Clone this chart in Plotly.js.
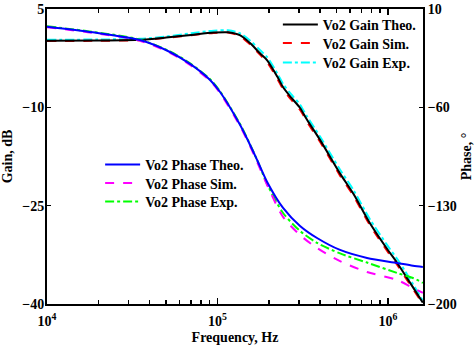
<!DOCTYPE html>
<html>
<head>
<meta charset="utf-8">
<script src="https://cdn.plot.ly/plotly-3.0.1.min.js"></script>
<style>html,body{margin:0;padding:0;background:#fff;}#chart{width:474px;height:348px;}</style>
</head>
<body>
<div id="chart"></div>
<script>
// Frequency grids (Hz)
const gainFreq = [1e4, 2e4, 3.5e4, 5e4, 7e4, 9.5e4, 1.15e5, 1.35e5, 1.55e5, 1.78e5, 1.95e5, 2.24e5, 2.42e5, 2.7e5, 3.05e5, 3.35e5, 4e5, 5.2e5, 6.3e5, 7.8e5, 1e6, 1.13e6, 1.26e6, 1.6e6];
const phaseFreq = [1e4, 1.86e4, 3.51e4, 5.26e4, 6.9e4, 9.04e4, 1.035e5, 1.357e5, 1.553e5, 1.707e5, 1.954e5, 2.423e5, 3.047e5, 3.834e5, 5.23e5, 7.53e5, 1.13e6, 1.4e6, 1.6e6];

// Gain (dB)
const gainTheo = [0.15, 0.2, 0.3, 0.65, 1.05, 1.4, 1.45, 1.0, -0.2, -1.8, -2.8, -5.3, -6.9, -8.5, -10.1, -11.9, -15.0, -20.0, -23.3, -27.6, -31.8, -33.7, -35.6, -39.8];
const gainSim  = [0.1, 0.15, 0.25, 0.6, 1.0, 1.35, 1.4, 0.9, -0.4, -2.0, -3.1, -5.6, -7.2, -8.8, -10.4, -12.2, -15.3, -20.3, -23.6, -27.9, -32.1, -34.0, -35.9, -40.0];
const gainExp  = [0.3, 0.35, 0.45, 0.8, 1.3, 1.7, 1.75, 1.3, 0.2, -1.3, -2.3, -4.8, -6.4, -8.0, -9.6, -11.4, -14.5, -19.4, -22.7, -27.0, -31.2, -33.1, -35.0, -39.5];

// Phase (deg)
const phaseTheo = [-2.6, -6.6, -12.1, -20.6, -29.1, -40.5, -49.1, -72.6, -86.8, -97.5, -113.1, -131.6, -144.4, -153, -161.5, -167.2, -170.8, -172.8, -173.6];
const phaseSim  = [-3.0, -7.0, -12.6, -21.2, -29.8, -41.2, -49.8, -73.4, -87.8, -98.8, -115.3, -138, -150.9, -160.1, -169.5, -177.2, -182.9, -188.6, -192];
const phaseExp  = [-2.3, -6.3, -11.8, -20.2, -28.7, -40.0, -48.6, -72.0, -86.5, -97.5, -114.6, -135.2, -148, -156.5, -164.0, -170.5, -177.9, -181.5, -185];

// Axis ticks
const xTickVals = [1e4, 1e5, 1e6];
const xTickText = ['10<sup>4</sup>', '10<sup>5</sup>', '10<sup>6</sup>'];
const xMinorVals = [2e4,3e4,4e4,5e4,6e4,7e4,8e4,9e4,2e5,3e5,4e5,5e5,6e5,7e5,8e5,9e5];
const gainTicks = [5, -10, -25, -40];
const phaseTicks = [10, -60, -130, -200];

const FONT = {family: '"Liberation Serif", "Times New Roman", serif', size: 14, color: '#000', weight: 700};

const traces = [
  {x: gainFreq, y: gainExp, name: 'Vo2 Gain Exp.', legend: 'legend3', yaxis: 'y',
   mode: 'lines', line: {color: '#00ffff', width: 2, dash: 'dashdot', shape: 'spline', smoothing: 0.8}},
  {x: gainFreq, y: gainSim, name: 'Vo2 Gain Sim.', legend: 'legend2', yaxis: 'y',
   mode: 'lines', line: {color: '#ff0000', width: 2, dash: 'dash', shape: 'spline', smoothing: 0.8}},
  {x: gainFreq, y: gainTheo, name: 'Vo2 Gain Theo.', legend: 'legend', yaxis: 'y',
   mode: 'lines', line: {color: '#000000', width: 2, shape: 'spline', smoothing: 0.8}},
  {x: phaseFreq, y: phaseExp, name: 'Vo2 Phase Exp.', legend: 'legend6', yaxis: 'y2',
   mode: 'lines', line: {color: '#00ff00', width: 2, dash: 'dashdot', shape: 'spline', smoothing: 0.8}},
  {x: phaseFreq, y: phaseSim, name: 'Vo2 Phase Sim.', legend: 'legend5', yaxis: 'y2',
   mode: 'lines', line: {color: '#ff00ff', width: 2, dash: 'dash', shape: 'spline', smoothing: 0.8}},
  {x: phaseFreq, y: phaseTheo, name: 'Vo2 Phase Theo.', legend: 'legend4', yaxis: 'y2',
   mode: 'lines', line: {color: '#0000ff', width: 2, shape: 'spline', smoothing: 0.8}}
];

function leg(x, y) {
  return {x: x, y: y, xanchor: 'left', yanchor: 'middle',
          bgcolor: 'rgba(0,0,0,0)', borderwidth: 0, font: FONT, itemwidth: 35};
}

const layout = {
  width: 474, height: 348,
  margin: {l: 47, r: 51, t: 9, b: 44},
  paper_bgcolor: '#fff', plot_bgcolor: '#fff',
  font: FONT,
  showlegend: true,
  xaxis: {
    type: 'log', range: [4, 6.205],
    tickmode: 'array', tickvals: xTickVals, ticktext: xTickText,
    ticks: 'inside', ticklen: 6, tickwidth: 1.5, tickcolor: '#000',
    minor: {tickmode: 'array', tickvals: xMinorVals, ticks: 'inside', ticklen: 4, tickwidth: 1.5, tickcolor: '#000'},
    showline: true, linewidth: 2, linecolor: '#000', mirror: 'ticks',
    showgrid: false, zeroline: false,
    tickfont: FONT, ticklabelstandoff: 3,
    title: {text: 'Frequency, Hz', font: FONT, standoff: 4},
    automargin: false
  },
  yaxis: {
    range: [-40, 5], tickmode: 'array', tickvals: gainTicks,
    ticks: 'inside', ticklen: 4, tickwidth: 1.5, tickcolor: '#000',
    showline: true, linewidth: 2, linecolor: '#000',
    showgrid: false, zeroline: false,
    tickfont: FONT, ticklabelstandoff: -2,
    title: {text: 'Gain, dB', font: FONT, standoff: 8},
    automargin: false
  },
  yaxis2: {
    overlaying: 'y', side: 'right',
    range: [-200, 10], tickmode: 'array', tickvals: phaseTicks,
    ticks: 'inside', ticklen: 4, tickwidth: 1.5, tickcolor: '#000',
    showline: true, linewidth: 2, linecolor: '#000',
    showgrid: false, zeroline: false,
    tickfont: FONT,
    title: {text: 'Phase, °', font: FONT, standoff: 6},
    automargin: false
  },
  legend:  leg(0.614, 0.9458),
  legend2: leg(0.614, 0.883),
  legend3: leg(0.614, 0.817),
  legend4: leg(0.1413, 0.4712),
  legend5: leg(0.1413, 0.4085),
  legend6: leg(0.1413, 0.3458)
};

Plotly.newPlot('chart', traces, layout, {displayModeBar: false, staticPlot: true});
</script>
</body>
</html>
